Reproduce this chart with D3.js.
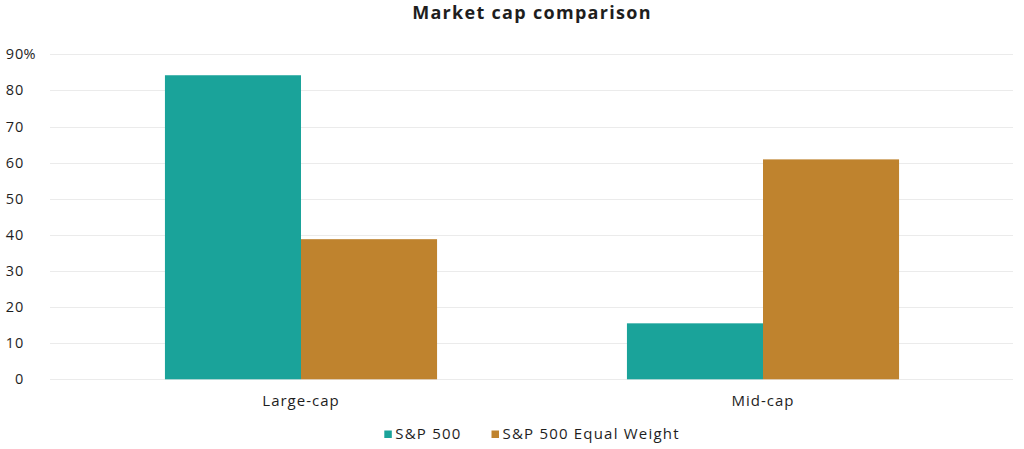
<!DOCTYPE html>
<html>
<head>
<meta charset="utf-8">
<script src="https://cdn.jsdelivr.net/npm/d3@7"></script>
<style>
  body { margin: 0; background: #fff; }
  text { font-family: "Open Sans", Lato, sans-serif; fill: #1e1e1e; letter-spacing: 0.8px; }
</style>
</head>
<body>
<div id="chart"></div>
<script>
// Podatki grafa
const categories = ["Large-cap", "Mid-cap"];
const seriesNames = ["S&P 500", "S&P 500 Equal Weight"];
const sp500 = [84.2, 15.5];
const equalWeight = [38.8, 60.9];
const yTicks = [0, 10, 20, 30, 40, 50, 60, 70, 80, 90];
const colors = ["#1aa39a", "#bf832e"];

const width = 1024;
const height = 449;

const svg = d3.select("#chart")
    .append("svg")
    .attr("width", width)
    .attr("height", height);

// Skale
const x = d3.scaleBand()
    .domain(categories)
    .range([70, 994])
    .paddingInner(0.411)
    .paddingOuter(0.2055);

const xInner = d3.scaleBand()
    .domain(seriesNames)
    .range([0, x.bandwidth()]);

const y = d3.scaleLinear()
    .domain([0, 90])
    .range([379.3, 54.3]);

// Mreža
svg.append("g")
    .selectAll("line")
    .data(yTicks)
    .join("line")
    .attr("x1", 50)
    .attr("x2", 1013)
    .attr("y1", d => Math.round(y(d)) + 0.5)
    .attr("y2", d => Math.round(y(d)) + 0.5)
    .attr("stroke", "#ebebeb")
    .attr("stroke-width", 1);

// Oznake osi y
const yLabels = svg.append("g")
    .attr("font-size", 14.5);

yLabels.selectAll("text.num")
    .data(yTicks)
    .join("text")
    .attr("class", "num")
    .attr("x", 24)
    .attr("y", d => y(d) + 5)
    .attr("text-anchor", "end")
    .text(d => d);

yLabels.append("text")
    .attr("x", 23.5)
    .attr("y", y(90) + 5)
    .text("%");

// Stolpci
const rows = categories.map((c, i) => ({ category: c, values: [sp500[i], equalWeight[i]] }));

svg.append("g")
    .selectAll("g")
    .data(rows)
    .join("g")
    .attr("transform", d => `translate(${x(d.category)},0)`)
    .selectAll("rect")
    .data(d => d.values.map((v, j) => ({ name: seriesNames[j], value: v, j: j })))
    .join("rect")
    .attr("x", d => xInner(d.name))
    .attr("width", xInner.bandwidth())
    .attr("y", d => y(d.value))
    .attr("height", d => y(0) - y(d.value))
    .attr("fill", d => colors[d.j]);

// Oznake kategorij
svg.append("g")
    .selectAll("text")
    .data(categories)
    .join("text")
    .attr("x", d => x(d) + x.bandwidth() / 2)
    .attr("y", 406)
    .attr("text-anchor", "middle")
    .attr("font-size", 15)
    .style("letter-spacing", "1px")
    .text(d => d);

// Naslov
svg.append("text")
    .attr("x", 532)
    .attr("y", 18.5)
    .attr("text-anchor", "middle")
    .attr("font-size", 18)
    .attr("font-weight", "bold")
    .style("letter-spacing", "1.3px")
    .text("Market cap comparison");

// Legenda
const legend = svg.append("g");
const items = legend.selectAll("g")
    .data(seriesNames)
    .join("g");

items.append("rect")
    .attr("width", 7.5)
    .attr("height", 7.5)
    .attr("y", 430.5)
    .attr("fill", (d, i) => colors[i]);

items.append("text")
    .attr("x", 11)
    .attr("y", 439)
    .attr("font-size", 15)
    .style("letter-spacing", "1.2px")
    .text(d => d);

// Razporedi legendo na sredino
const widths = [];
items.each(function () {
    widths.push(this.getBBox().width);
});
const gap = 30;
const total = d3.sum(widths) + gap * (widths.length - 1);
let start = 532 - total / 2;
items.attr("transform", (d, i) => {
    const tx = start;
    start += widths[i] + gap;
    return `translate(${tx},0)`;
});
</script>
</body>
</html>
